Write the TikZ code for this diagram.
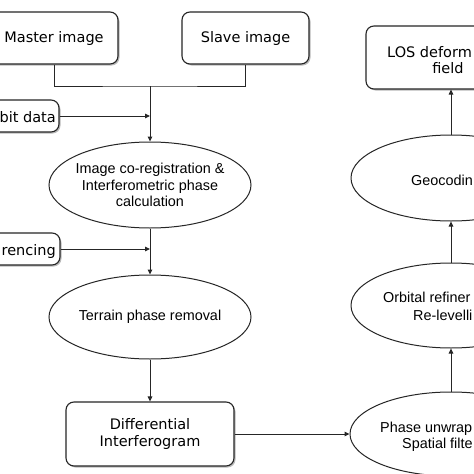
\documentclass[tikz,border=0pt]{standalone}
\usepackage{fontspec}
\setmainfont{DejaVu Sans}
\newfontfamily\arialf{Liberation Sans}
\usetikzlibrary{shapes.geometric,arrows.meta,shadows}
\begin{document}
\begin{tikzpicture}[x=1pt,y=-1pt,
  box/.style={draw=black!85, line width=1.1pt, rounded corners=8pt, fill=white,
    drop shadow={shadow xshift=1.5pt, shadow yshift=-1.5pt, fill=black!45, opacity=0.6},
    inner sep=0pt, font=\fontsize{14.5}{16.5}\selectfont, align=center},
  ell/.style={draw=black!85, line width=1pt, ellipse, fill=white, inner sep=0pt},
  etxt/.style={inner sep=0pt, font=\arialf\fontsize{14.4}{16.5}\selectfont, align=center},
  lbl/.style={inner sep=0pt, font=\fontsize{14.5}{16.5}\selectfont},
  elbl/.style={inner sep=0pt, font=\arialf\fontsize{14.4}{16.5}\selectfont},
  arr/.style={draw=black!85, line width=1pt, -{Triangle[length=5pt,width=4.5pt]}},
  con/.style={draw=black!85, line width=1pt}]
\useasboundingbox (0,0) rectangle (474,474);
\clip (0,0) rectangle (474,474);
\fill[white] (0,0) rectangle (474,474);

% left column
\node[box, minimum width=128pt, minimum height=52pt] (master) at (54,38) {Master image};
\node[box, minimum width=127pt, minimum height=52pt] (slave) at (245.5,38) {Slave image};
\coordinate (j) at (150,86);
\node[box, minimum width=130pt, minimum height=32pt] (orbit) at (-6,116) {};
\node[lbl, anchor=base east] (orbitt) at (56,122) {bit data};
\node[ell, minimum width=202pt, minimum height=86pt] (e1) at (150,185) {};
\node[etxt] (e1t) at (e1) {Image co-registration \&\\Interferometric phase\\calculation};
\node[box, minimum width=130pt, minimum height=32pt] (ref) at (-5,249) {};
\node[lbl, anchor=base east] (reft) at (56,255) {rencing};
\node[ell, minimum width=202pt, minimum height=84pt] (e2) at (150,317) {};
\node[etxt] (e2t) at (e2) {Terrain phase removal};
\node[box, minimum width=168pt, minimum height=64pt] (diff) at (150,434) {Differential\\Interferogram};

% right column
\node[ell, minimum width=202pt, minimum height=84pt] (pu) at (451,434) {};
\node[elbl, anchor=base west] (put1) at (380,432) {Phase unwrap};
\node[elbl, anchor=base west] (put2) at (402,448) {Spatial filte};
\node[ell, minimum width=200pt, minimum height=85pt] (orb) at (451,305.5) {};
\node[elbl, anchor=base west] (orbt1) at (383,302) {Orbital refiner};
\node[elbl, anchor=base west] (orbt2) at (413,320) {Re-levelli};
\node[ell, minimum width=200pt, minimum height=86pt] (geo) at (451,178) {};
\node[elbl, anchor=base west] (geot) at (411,185) {Geocodin};
\node[box, minimum width=170pt, minimum height=63pt] (los) at (451,57.5) {};
\node[lbl, anchor=base west] (lost1) at (387,57) {LOS deform};
\node[lbl, anchor=base] (lost2) at (448,73) {field};

% connectors
\draw[con] (master.south) |- (j) -| (slave.south);
\draw[arr] (j) -- (e1.north);
\draw[arr] (orbit.east) -- (orbit.east -| j);
\draw[arr] (e1.south) -- (e2.north);
\draw[arr] (ref.east) -- (ref.east -| j);
\draw[arr] (e2.south) -- (diff.north);
\draw[arr] (diff.east) -- (pu.west);
\draw[arr] (pu.north) -- (orb.south);
\draw[arr] (orb.north) -- (geo.south);
\draw[arr] (geo.north) -- (los.south);
\end{tikzpicture}
\end{document}
